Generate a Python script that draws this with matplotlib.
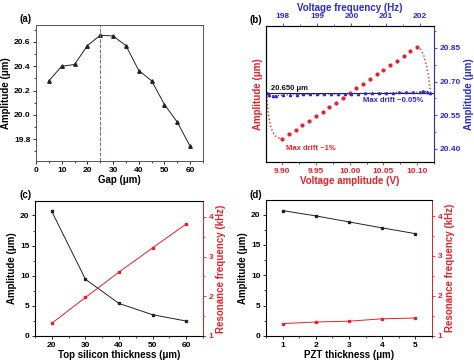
import matplotlib.pyplot as plt
from matplotlib.ticker import AutoMinorLocator

plt.rcParams['font.family'] = ['Liberation Sans', 'DejaVu Sans']
plt.rcParams['font.weight'] = 'bold'
plt.rcParams['axes.labelweight'] = 'bold'

RED = '#e8202a'
BLUE = '#2b2bd0'

# (a) amplitude vs gap
gap = [5, 10, 15, 20, 25, 30, 35, 40, 45, 50, 55, 60]
amp_gap = [20.28, 20.40, 20.415, 20.57, 20.655, 20.65, 20.57, 20.365, 20.28, 20.085, 19.94, 19.74]

# (b) drift: voltage amplitude sweep (red) and frequency sweep (blue)
volt = [9.90, 9.91, 9.92, 9.93, 9.94, 9.95, 9.96, 9.97, 9.98, 9.99, 10.00,
        10.01, 10.02, 10.03, 10.04, 10.05, 10.06, 10.07, 10.08, 10.09, 10.10]
amp_volt = [20.445, 20.465, 20.485, 20.505, 20.525, 20.545, 20.567, 20.588, 20.607, 20.628, 20.650,
            20.671, 20.691, 20.712, 20.732, 20.753, 20.773, 20.794, 20.814, 20.835, 20.855]
volt_in = [9.877, 9.878, 9.880, 9.883, 9.886, 9.890, 9.895, 9.900]
amp_in = [20.650, 20.600, 20.545, 20.500, 20.475, 20.458, 20.449, 20.445]
volt_out = [10.100, 10.105, 10.110, 10.114, 10.117, 10.119, 10.120]
amp_out = [20.855, 20.845, 20.815, 20.770, 20.720, 20.675, 20.650]
freq = [197.55, 197.6, 197.7, 197.8, 198.0, 198.2, 198.4, 198.6, 198.8, 199.0, 199.2, 199.4,
        199.6, 199.8, 200.0, 200.2, 200.4, 200.6, 200.8, 201.0, 201.2, 201.4, 201.6, 201.8,
        202.0, 202.1, 202.2, 202.3]
amp_freq = [20.650, 20.640, 20.637, 20.638, 20.640, 20.641, 20.642, 20.643, 20.643, 20.644, 20.644, 20.645,
            20.645, 20.646, 20.646, 20.647, 20.648, 20.648, 20.649, 20.650, 20.651, 20.652, 20.652, 20.653,
            20.654, 20.658, 20.656, 20.650]

# (c) top silicon thickness
si_t = [20, 30, 40, 50, 60]
amp_si = [20.66, 9.42, 5.4, 3.53, 2.48]
freq_si = [1.32, 1.97, 2.61, 3.22, 3.82]

# (d) PZT thickness
pzt_t = [1, 2, 3, 4, 5]
amp_pzt = [20.66, 19.78, 18.79, 17.8, 16.86]
freq_pzt = [1.31, 1.35, 1.37, 1.43, 1.45]

fig = plt.figure(figsize=(4.74, 3.63), dpi=100)
W, H = 474, 363


def make_ax(l, t, r, b):
    return fig.add_axes([l / W, 1 - b / H, (r - l) / W, (b - t) / H])


def style(ax, color='black'):
    ax.tick_params(direction='out', length=2.5, width=0.6, labelsize=6, pad=1.5)
    ax.tick_params(which='minor', direction='out', length=1.5, width=0.5)
    for s in ax.spines.values():
        s.set_linewidth(0.7)
        s.set_color('#555555')


# ---- (a)
ax = make_ax(36, 25, 203, 161)
style(ax)
ax.plot(gap, amp_gap, '-^', color='#222222', lw=0.7, ms=2.5)
ax.axvline(25, color='#6666cc', ls='--', lw=0.7)
ax.set_xlim(0, 65)
ax.set_ylim(19.62, 20.74)
ax.set_xticks([0, 10, 20, 30, 40, 50, 60])
ax.set_yticks([19.8, 20.0, 20.2, 20.4, 20.6])
ax.xaxis.set_minor_locator(AutoMinorLocator(2))
ax.yaxis.set_minor_locator(AutoMinorLocator(2))
ax.set_xlabel('Gap (μm)', fontsize=7, labelpad=1)
ax.set_ylabel('Amplitude (μm)', fontsize=7, labelpad=2)
fig.text(20 / W, 1 - 22 / H, '(a)', fontsize=7, fontweight='bold')

# ---- (b)
ax = make_ax(266, 26, 434, 162)
style(ax)
ax.set_xlim(9.876, 10.125)
ax.set_ylim(20.342, 20.948)
ax.axhline(20.65, color='#222222', lw=0.8)
ax.plot(volt, amp_volt, 'o', color=RED, ms=2)
ax.plot(volt_in, amp_in, ':', color=RED, lw=1.0)
ax.plot(volt_out, amp_out, ':', color=RED, lw=1.0)
ax.set_xticks([9.90, 9.95, 10.00, 10.05, 10.10])
ax.set_yticks([20.40, 20.55, 20.70, 20.85])
ax.xaxis.set_minor_locator(AutoMinorLocator(2))
ax.yaxis.set_minor_locator(AutoMinorLocator(2))
ax.tick_params(axis='both', colors=RED)
ax.spines['left'].set_color(RED)
ax.set_xlabel('Voltage amplitude (V)', fontsize=7, color=RED, labelpad=1)
ax.set_ylabel('Amplitude (μm)', fontsize=7, color=RED, labelpad=2)
ax.text(9.883, 20.665, '20.650 μm', fontsize=5.5, color='#111111')
ax.text(10.02, 20.61, 'Max drift ~0.05%', fontsize=5.5, color=BLUE)
ax.text(9.906, 20.395, 'Max drift ~1%', fontsize=5.5, color=RED)

axt = ax.twiny()
axr = axt.twinx()
axt.set_xlim(197.51, 202.41)
axt.set_xticks([198, 199, 200, 201, 202])
axt.xaxis.set_minor_locator(AutoMinorLocator(2))
axt.tick_params(axis='x', direction='out', length=2.5, width=0.6, labelsize=6, pad=1.5, colors=BLUE)
axt.tick_params(axis='x', which='minor', direction='out', length=1.5, width=0.5, colors=BLUE)
axt.spines['top'].set_color(BLUE)
axt.set_xlabel('Voltage frequency (Hz)', fontsize=7, color=BLUE, labelpad=2)
axt.set_yticks([])
axr.set_ylim(20.342, 20.948)
axr.plot(freq, amp_freq, ':^', color=BLUE, lw=0.8, ms=1.6)
axr.set_yticks([20.40, 20.55, 20.70, 20.85])
axr.yaxis.set_minor_locator(AutoMinorLocator(2))
axr.tick_params(axis='y', direction='out', length=2.5, width=0.6, labelsize=6, pad=1.5, colors=BLUE)
axr.tick_params(axis='y', which='minor', direction='out', length=1.5, width=0.5, colors=BLUE)
axr.spines['right'].set_color(BLUE)
axr.spines['right'].set_linewidth(0.7)
axr.set_ylabel('Amplitude (μm)', fontsize=7, color=BLUE, labelpad=2)
fig.text(250 / W, 1 - 23 / H, '(b)', fontsize=7, fontweight='bold')


def thickness_panel(rect, x, amp, fr, xlim, xticks, xlabel, tag, tagpos):
    ax = make_ax(*rect)
    style(ax)
    ax.plot(x, amp, '-s', color='#222222', lw=0.7, ms=2)
    ax.set_xlim(*xlim)
    ax.set_ylim(0, 22.4)
    ax.set_xticks(xticks)
    ax.set_yticks([0, 5, 10, 15, 20])
    ax.xaxis.set_minor_locator(AutoMinorLocator(2))
    ax.yaxis.set_minor_locator(AutoMinorLocator(2))
    ax.set_xlabel(xlabel, fontsize=7, labelpad=1)
    ax.set_ylabel('Amplitude (μm)', fontsize=7, labelpad=2)
    ar = ax.twinx()
    ar.plot(x, fr, '-s', color=RED, lw=0.7, ms=2)
    ar.set_ylim(1, 4.4)
    ar.set_yticks([1, 2, 3, 4])
    ar.yaxis.set_minor_locator(AutoMinorLocator(2))
    ar.tick_params(axis='y', direction='out', length=2.5, width=0.6, labelsize=6, pad=1.5, colors=RED)
    ar.tick_params(axis='y', which='minor', direction='out', length=1.5, width=0.5, colors=RED)
    ar.spines['right'].set_color(RED)
    ar.spines['right'].set_linewidth(0.7)
    ar.set_ylabel('Resonance frequency (kHz)', fontsize=7, color=RED, labelpad=2)
    fig.text(tagpos[0] / W, 1 - tagpos[1] / H, tag, fontsize=7, fontweight='bold')


thickness_panel((35, 201, 203, 336), si_t, amp_si, freq_si, (15, 65), [20, 30, 40, 50, 60],
                'Top silicon thickness (μm)', '(c)', (20, 198))
thickness_panel((266, 200, 432, 336), pzt_t, amp_pzt, freq_pzt, (0.5, 5.5), [1, 2, 3, 4, 5],
                'PZT thickness (μm)', '(d)', (250, 198))

fig.savefig('out.png', dpi=100)
